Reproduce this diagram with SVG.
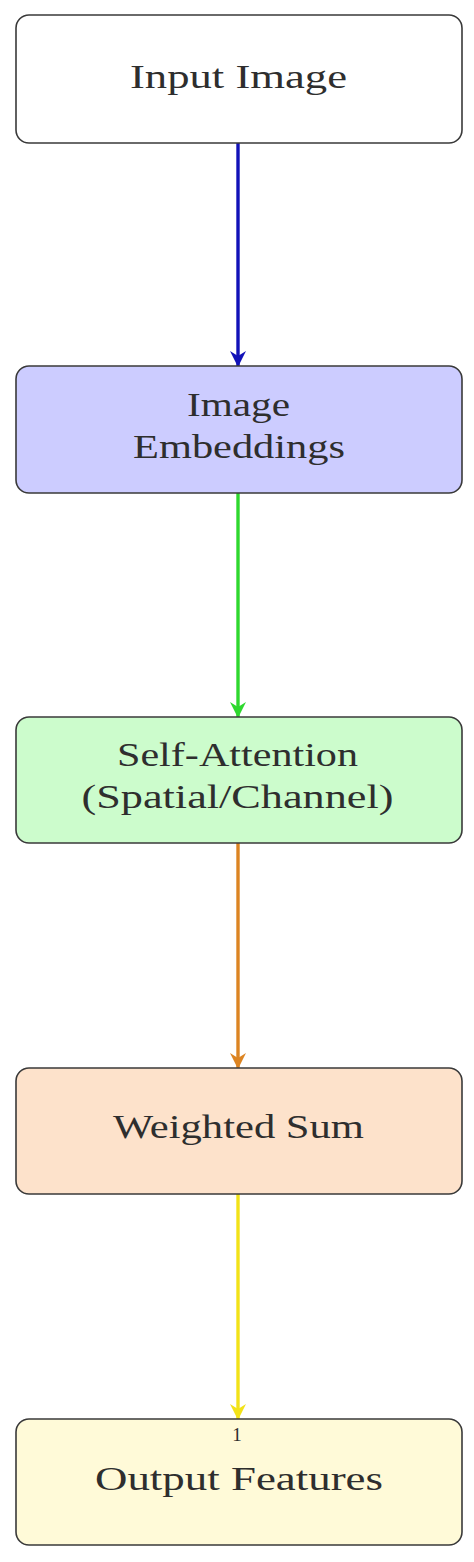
<svg xmlns="http://www.w3.org/2000/svg" width="474" height="1562" viewBox="0 0 474 1562">
<style>
.box{stroke:#3a3a3a;stroke-width:1.6}
.t{font-family:"Liberation Serif","Times New Roman",serif;font-size:34px;fill:#2e2e2e;text-anchor:middle}
.c{fill:none;stroke-width:3.4}
</style>
<defs>
<marker id="ab" viewBox="0 0 16 16" refX="15" refY="8" markerWidth="16" markerHeight="16" markerUnits="userSpaceOnUse" orient="auto"><path d="M0,0 L16,8 L0,16 L5,8 Z" fill="#1212b8"/></marker>
<marker id="ag" viewBox="0 0 16 16" refX="15" refY="8" markerWidth="16" markerHeight="16" markerUnits="userSpaceOnUse" orient="auto"><path d="M0,0 L16,8 L0,16 L5,8 Z" fill="#2ed82e"/></marker>
<marker id="ao" viewBox="0 0 16 16" refX="15" refY="8" markerWidth="16" markerHeight="16" markerUnits="userSpaceOnUse" orient="auto"><path d="M0,0 L16,8 L0,16 L5,8 Z" fill="#dc8422"/></marker>
<marker id="ay" viewBox="0 0 16 16" refX="15" refY="8" markerWidth="16" markerHeight="16" markerUnits="userSpaceOnUse" orient="auto"><path d="M0,0 L16,8 L0,16 L5,8 Z" fill="#f2e218"/></marker>
</defs>
<rect width="474" height="1562" fill="#ffffff"/>
<g id="connectors">
<line class="c" x1="238" y1="143" x2="238" y2="366" stroke="#1212b8" marker-end="url(#ab)"/>
<line class="c" x1="238" y1="493" x2="238" y2="717" stroke="#2ed82e" marker-end="url(#ag)"/>
<line class="c" x1="238" y1="843" x2="238" y2="1068" stroke="#dc8422" marker-end="url(#ao)"/>
<line class="c" x1="238" y1="1194" x2="238" y2="1419" stroke="#f2e218" marker-end="url(#ay)"/>
</g>
<g id="node-input">
<rect class="box" x="16" y="15" width="446" height="128" rx="13" fill="#ffffff"/>
<text class="t" x="238.5" y="88" textLength="217" lengthAdjust="spacingAndGlyphs">Input Image</text>
</g>
<g id="node-embed">
<rect class="box" x="16" y="366" width="446" height="127" rx="13" fill="#ccccff"/>
<text class="t" x="238.5" y="416" textLength="103" lengthAdjust="spacingAndGlyphs">Image</text>
<text class="t" x="239" y="458" textLength="212" lengthAdjust="spacingAndGlyphs">Embeddings</text>
</g>
<g id="node-attn">
<rect class="box" x="16" y="717" width="446" height="126" rx="13" fill="#ccfccc"/>
<text class="t" x="237.5" y="766" textLength="241" lengthAdjust="spacingAndGlyphs">Self-Attention</text>
<text class="t" x="237.5" y="808" textLength="312" lengthAdjust="spacingAndGlyphs">(Spatial/Channel)</text>
</g>
<g id="node-sum">
<rect class="box" x="16" y="1068" width="446" height="126" rx="13" fill="#fde2cb"/>
<text class="t" x="238.5" y="1138" textLength="251" lengthAdjust="spacingAndGlyphs">Weighted Sum</text>
</g>
<g id="node-out">
<rect class="box" x="16" y="1419" width="446" height="126" rx="13" fill="#fffad8"/>
<text class="t" x="237" y="1441" style="font-size:19px">1</text>
<text class="t" x="239" y="1490" textLength="288" lengthAdjust="spacingAndGlyphs">Output Features</text>
</g>
</svg>
